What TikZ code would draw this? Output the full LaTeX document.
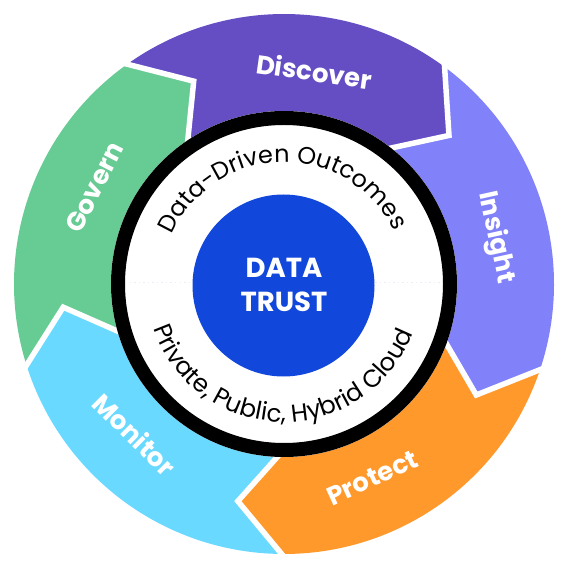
\documentclass[tikz,border=0pt]{standalone}
\usepackage{fontspec}
\setmainfont{Poppins}
\usetikzlibrary{decorations.text,calc}
\definecolor{cDisc}{RGB}{101,77,196}
\definecolor{cIns}{RGB}{129,129,250}
\definecolor{cProt}{RGB}{255,153,44}
\definecolor{cMon}{RGB}{105,217,255}
\definecolor{cGov}{RGB}{103,203,148}
\definecolor{cBlue}{RGB}{18,71,219}
\definecolor{cDots}{RGB}{234,238,246}
\newcommand{\ringseg}[2]{%
  \pgfmathsetmacro{\segE}{#2-72}%
  \fill[#1] ({#2}:270) arc[start angle={#2}, end angle=\segE, radius=270]
    -- ({\segE-11.5}:222) -- ({\segE-1.7}:173)
    arc[start angle={\segE-1.7}, end angle={#2-1.7}, radius=173]
    -- ({#2-11.5}:222) -- cycle;}
\newcommand{\segborder}[1]{%
  \coordinate (apx) at ({#1-11.5}:222);
  \coordinate (outp) at ({#1}:270);
  \coordinate (innp) at ({#1-1.7}:173);
  \draw[gapline] ($(apx)!1.4!(outp)$) -- (apx) -- ($(apx)!1.5!(innp)$);}
\begin{document}
\begin{tikzpicture}[x=1pt,y=1pt,
  gapline/.style={white, line width=5.5},
  lbl/.style={text=white, inner sep=0, font=\fontsize{26}{26}\selectfont\bfseries},
  curvtext/.style={decorate, decoration={text along path, text align=center, text={#1}}}]
\useasboundingbox (-284,-285) rectangle (285,284);
\fill[white] (-284,-285) rectangle (285,284);
% ring segments
\ringseg{cDisc}{125.5}
\ringseg{cIns}{53.5}
\ringseg{cProt}{-18.5}
\ringseg{cMon}{-90.5}
\ringseg{cGov}{197.5}
% white gaps
\segborder{125.5}
\segborder{53.5}
\segborder{-18.5}
\segborder{-90.5}
\segborder{197.5}
% inner white disc and black ring
\fill[white] (0,0) circle[radius=173];
\draw[black, line width=14] (0,0) circle[radius=166];
% faint dotted traces
\coordinate (dl1) at (-154,1); \coordinate (dl2) at (-94,1);
\coordinate (dr1) at (91,1); \coordinate (dr2) at (156,1);
\draw[cDots, line width=1, dash pattern=on 1.5 off 3] (dl1) -- (dl2);
\draw[cDots, line width=1, dash pattern=on 1.5 off 3] (dr1) -- (dr2);
% centre
\fill[cBlue] (-0.5,-1.5) circle[radius=91];
\node[text=white, align=center, font=\fontsize{27.5}{34}\selectfont\bfseries] (trust) at (0,-1) {DATA\\TRUST};
% curved texts
\path[curvtext={|\fontsize{24}{24}\selectfont|Data-Driven Outcomes}] (166:122) arc[start angle=166, end angle=16, radius=122];
\path[curvtext={|\fontsize{24.5}{24.5}\selectfont|Private, Public, Hybrid Cloud}] (-179:138) arc[start angle=-179, end angle=-3, radius=138];
% labels
\node[lbl, rotate=-8.1] (discover) at (81.9:215) {Discover};
\node[lbl, rotate=-77.6] (insight) at (12.4:217) {Insight};
\node[lbl, rotate=24.5] (protect) at (-65.5:213) {Protect};
\node[lbl, rotate=-44.8] (monitor) at (225.2:212) {Monitor};
\node[lbl, rotate=63] (govern) at (153:213) {Govern};
\end{tikzpicture}
\end{document}
